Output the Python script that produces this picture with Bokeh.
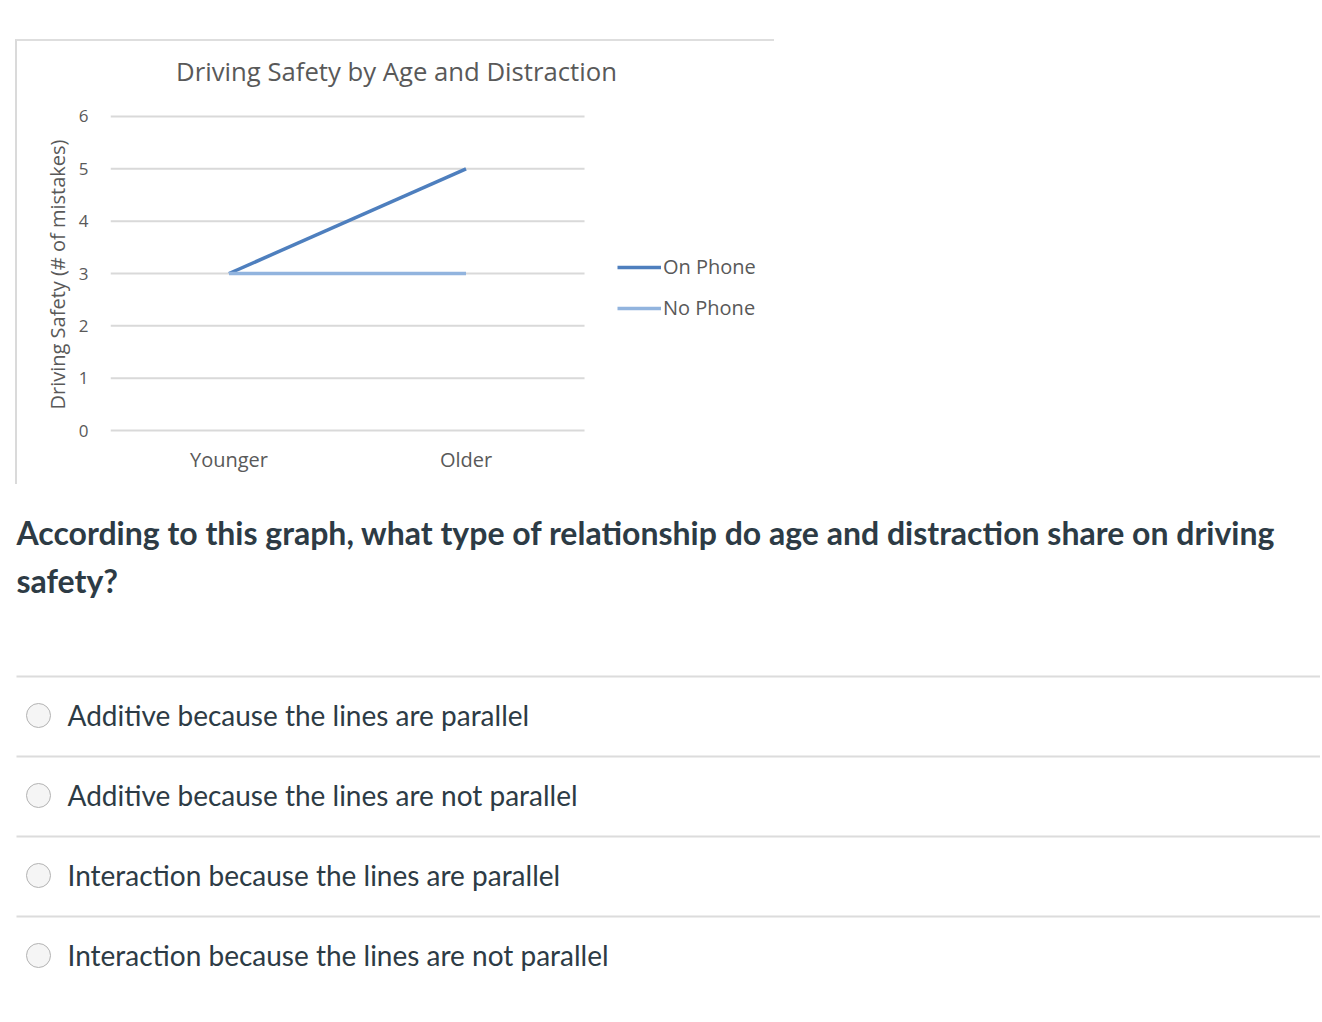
from bokeh.plotting import figure
from bokeh.layouts import column, row
from bokeh.models import (ColumnDataSource, Range1d, Legend, LegendItem,
                          FixedTicker, Spacer, Label, Title)
from bokeh.core.properties import value
from bokeh.embed import file_html
from bokeh.resources import INLINE

# ---------------- data ----------------
ages = ["Younger", "Older"]
on_phone = [3, 5]
no_phone = [3, 3]
series_names = ["On Phone", "No Phone"]
y_ticks = [0, 1, 2, 3, 4, 5, 6]
chart_title = "Driving Safety by Age and Distraction"
y_label = "Driving Safety (# of mistakes)"
question_lines = [
    "According to this graph, what type of relationship do age and distraction share on driving",
    "safety?",
]
options = [
    "Additive because the lines are parallel",
    "Additive because the lines are not parallel",
    "Interaction because the lines are parallel",
    "Interaction because the lines are not parallel",
]

# ---------------- styles ----------------
CHART_FONT = "Open Sans"
GRAY = "#595959"
DARK_BLUE = "#4e7fbe"
LIGHT_BLUE = "#92b4de"
GRID = "#d9d9d9"
PAGE_TEXT = "#2d3b45"
PAGE_FONT = "Lato"

# category slots: each category occupies one unit, centred at i + 0.5
cat_pos = [i + 0.5 for i in range(len(ages))]

# ---------------- chart ----------------
chart = figure(
    x_range=Range1d(0, 2.81),
    y_range=Range1d(-0.038, 7.433),
    width=759, height=445,
    min_border_left=93, min_border_right=0, min_border_top=0, min_border_bottom=54,
    output_backend="svg", toolbar_location=None,
    background_fill_color="white", border_fill_color="white",
)
chart.styles = {"border-top": "2px solid #dedede", "border-left": "2px solid #dadada"}

# horizontal gridlines over the category area only
chart.segment(x0=[0] * len(y_ticks), x1=[len(ages)] * len(y_ticks), y0=y_ticks, y1=y_ticks,
              line_color=GRID, line_width=2)

src = ColumnDataSource(dict(pos=cat_pos, age=ages, on=on_phone, no=no_phone))
r_on = chart.line(x="pos", y="on", source=src, line_color=DARK_BLUE, line_width=3.5)
r_no = chart.line(x="pos", y="no", source=src, line_color=LIGHT_BLUE, line_width=3.5)

title_label = Label(x=286, y=361, x_units="screen", y_units="screen",
                    text=chart_title, text_font=CHART_FONT, text_font_size="25.7px",
                    text_color=GRAY, text_align="center", text_baseline="middle")
chart.add_layout(title_label)

legend = Legend(items=[LegendItem(label=series_names[0], renderers=[r_on]),
                       LegendItem(label=series_names[1], renderers=[r_no])],
                location=(507, 111), glyph_width=44, glyph_height=20, label_standoff=2,
                spacing=14, padding=0, margin=0, border_line_color=None,
                background_fill_alpha=0, label_text_font=CHART_FONT,
                label_text_font_size="20px", label_text_color=GRAY, label_height=20)
chart.add_layout(legend)

chart.xaxis.ticker = FixedTicker(ticks=cat_pos)
chart.xaxis.major_label_overrides = {p: a for p, a in zip(cat_pos, ages)}
chart.xaxis.axis_line_color = None
chart.xaxis.major_tick_line_color = None
chart.xaxis.minor_tick_line_color = None
chart.xaxis.major_tick_out = 0
chart.xaxis.major_tick_in = 0
chart.xaxis.major_label_text_font = CHART_FONT
chart.xaxis.major_label_text_font_size = "20px"
chart.xaxis.major_label_text_color = GRAY
chart.xaxis.major_label_standoff = 13

chart.yaxis.ticker = FixedTicker(ticks=y_ticks)
chart.yaxis.axis_line_color = None
chart.yaxis.major_tick_line_color = None
chart.yaxis.minor_tick_line_color = None
chart.yaxis.major_tick_out = 0
chart.yaxis.major_tick_in = 0
chart.yaxis.major_label_text_font = CHART_FONT
chart.yaxis.major_label_text_font_size = "17px"
chart.yaxis.major_label_text_color = GRAY
chart.yaxis.major_label_standoff = 22

# y axis title placed beside the axis, aligned to the 0..6 span
y_title = Title(text=y_label, align="left", offset=23, standoff=9,
                text_font=CHART_FONT, text_font_size="20px", text_font_style="normal",
                text_color=GRAY)
chart.add_layout(y_title, "left")

chart.grid.visible = False
chart.outline_line_color = None

# ---------------- page (question + options) ----------------
PAGE_W, PAGE_TOP, PAGE_BOTTOM = 1320, 486, 1020
page = figure(width=PAGE_W, height=PAGE_BOTTOM - PAGE_TOP,
              x_range=Range1d(0, PAGE_W), y_range=Range1d(PAGE_BOTTOM, PAGE_TOP),
              x_axis_type=None, y_axis_type=None, output_backend="svg", toolbar_location=None,
              min_border=0, min_border_left=0, min_border_right=0, min_border_top=0,
              min_border_bottom=0)
page.grid.visible = False
page.outline_line_color = None

Q_X, Q_Y, Q_LH = 16, 534, 48
page.text(x=[Q_X] * len(question_lines), y=[Q_Y + i * Q_LH for i in range(len(question_lines))],
          text=question_lines, text_font=value(PAGE_FONT), text_font_size="32px",
          text_font_style="bold", text_color=PAGE_TEXT, text_baseline="middle")

SEP0, PITCH = 678, 80
seps = [SEP0 + i * PITCH for i in range(len(options))]
page.segment(x0=[16] * len(seps), x1=[PAGE_W] * len(seps), y0=seps, y1=seps,
             line_color="#dcdcdc", line_width=2)
page.scatter(x=[38] * len(seps), y=[s + 39 for s in seps], size=24, marker="circle",
             fill_color="#f5f5f5", line_color="#b3b3b3", line_width=1)
page.text(x=[67] * len(options), y=[s + 38 for s in seps], text=options,
          text_font=value(PAGE_FONT), text_font_size="28px", text_color=PAGE_TEXT,
          text_baseline="middle")

layout = column(Spacer(height=39), row(Spacer(width=15), chart), page)

open("out.html", "w").write(file_html(layout, INLINE))
